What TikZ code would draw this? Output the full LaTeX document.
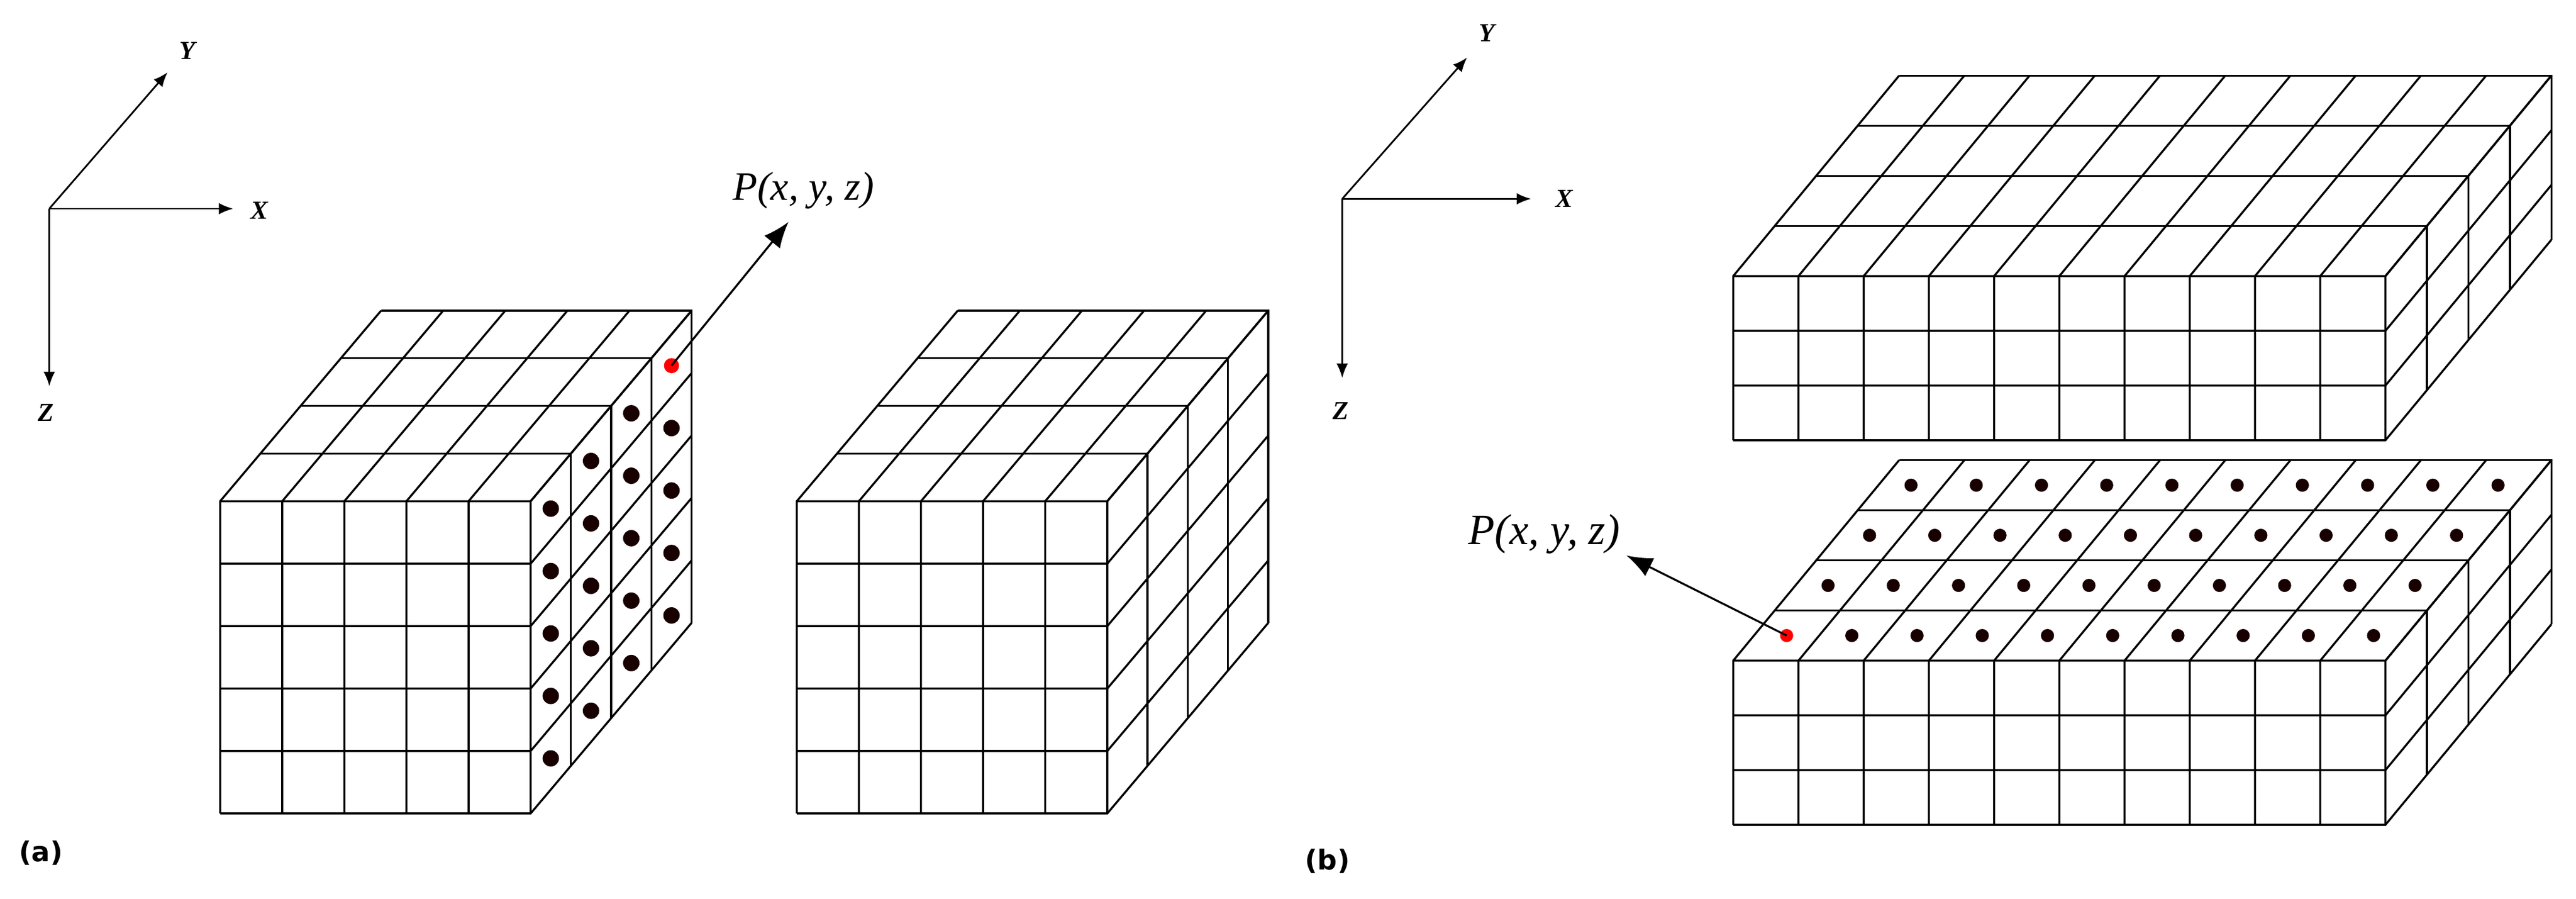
\documentclass[tikz,border=0pt]{standalone}
\usepackage{fontspec}
\setmainfont{Liberation Serif}
\newfontfamily\serfont{Liberation Serif}
\newfontfamily\labfont{DejaVu Sans}
\usetikzlibrary{arrows.meta}
\begin{document}
\begin{tikzpicture}[x=0.02cm,y=-0.02cm,
  gridline/.style={line width=0.7pt,black},
  axisline/.style={line width=0.6pt,-{Latex[length=5pt,width=4pt]}},
  axlabel/.style={font=\serfont\bfseries\itshape\fontsize{9}{10}\selectfont},
  plabel/.style={font=\serfont\itshape\fontsize{14}{15}\selectfont},
  sublabel/.style={font=\labfont\bfseries\fontsize{9.5}{11}\selectfont},
  bdot/.style={fill=black!90!red},
  rdot/.style={fill=red}]
\useasboundingbox (0,0) rectangle (1568,547);
% args: x0 y0 ncol nrow cw ch depth dx dy
\newcommand{\drawslab}[9]{%
  \foreach \r in {0,...,#4} \draw[gridline] (#1,{#2+\r*#6}) -- ({#1+#3*#5},{#2+\r*#6}) -- ({#1+#3*#5+#7*#8},{#2+\r*#6+#7*#9});
  \foreach \c in {0,...,#3} \draw[gridline] ({#1+\c*#5},{#2+#4*#6}) -- ({#1+\c*#5},#2) -- ({#1+\c*#5+#7*#8},{#2+#7*#9});
  \foreach \k in {1,...,#7} {
    \draw[gridline] ({#1+\k*#8},{#2+\k*#9}) -- ({#1+#3*#5+\k*#8},{#2+\k*#9}) -- ({#1+#3*#5+\k*#8},{#2+#4*#6+\k*#9});}
}
% ---- (a) axes
\coordinate (oa) at (30,127);
\coordinate (xa) at (142,127); \coordinate (ya) at (102,44); \coordinate (za) at (30,235);
\draw[axisline] (oa) -- (xa); \draw[axisline] (oa) -- (ya); \draw[axisline] (oa) -- (za);
\node[axlabel] (lxa) at (158,128) {X};
\node[axlabel] (lya) at (114,31) {Y};
\node[axlabel] (lza) at (28,251) {Z};
% ---- (a) cubes
\drawslab{134}{305}{5}{5}{37.8}{38}{4}{24.5}{-29}
\drawslab{485}{305}{5}{5}{37.8}{38}{4}{24.5}{-29}
\foreach \j in {0,...,3} \foreach \i in {0,...,4} {
  \ifnum\j=3 \ifnum\i=0 \else \fill[bdot] ({323+24.5*(\j+0.5)},{305+38*(\i+0.5)-29*(\j+0.5)}) circle (5); \fi
  \else \fill[bdot] ({323+24.5*(\j+0.5)},{305+38*(\i+0.5)-29*(\j+0.5)}) circle (5); \fi}
\coordinate (pa) at (408.75,222.5);
\fill[rdot] (pa) circle (4.6);
\coordinate (pat) at (480,135);
\draw[line width=0.7pt,-{Latex[length=9pt,width=7pt]}] (pa) -- (pat);
\node[plabel] (pla) at (489,116) {P(x, y, z)};
\node[sublabel] (la) at (25,519) {(a)};
% ---- (b) axes
\coordinate (ob) at (817,121);
\coordinate (xb) at (932,121); \coordinate (yb) at (893,35); \coordinate (zb) at (817,230);
\draw[axisline] (ob) -- (xb); \draw[axisline] (ob) -- (yb); \draw[axisline] (ob) -- (zb);
\node[axlabel] (lxb) at (952,121) {X};
\node[axlabel] (lyb) at (905,20) {Y};
\node[axlabel] (lzb) at (816,250) {Z};
% ---- (b) slabs
\drawslab{1055}{168}{10}{3}{39.7}{33.3}{4}{25.25}{-30.5}
\drawslab{1055}{402}{10}{3}{39.7}{33.3}{4}{25.25}{-30.5}
\foreach \j in {0,...,3} \foreach \c in {0,...,9} {
  \ifnum\j=0 \ifnum\c=0 \else \fill[bdot] ({1055+39.7*(\c+0.5)+25.25*(\j+0.5)},{402-30.5*(\j+0.5)}) circle (4); \fi
  \else \fill[bdot] ({1055+39.7*(\c+0.5)+25.25*(\j+0.5)},{402-30.5*(\j+0.5)}) circle (4); \fi}
\coordinate (pb) at (1087.5,386.75);
\fill[rdot] (pb) circle (4);
\coordinate (pbt) at (990,338);
\draw[line width=0.7pt,-{Latex[length=9pt,width=7pt]}] (pb) -- (pbt);
\node[plabel,font=\serfont\itshape\fontsize{15}{16}\selectfont] (plb) at (940,325) {P(x, y, z)};
\node[sublabel] (lb) at (808,524) {(b)};
\end{tikzpicture}
\end{document}
